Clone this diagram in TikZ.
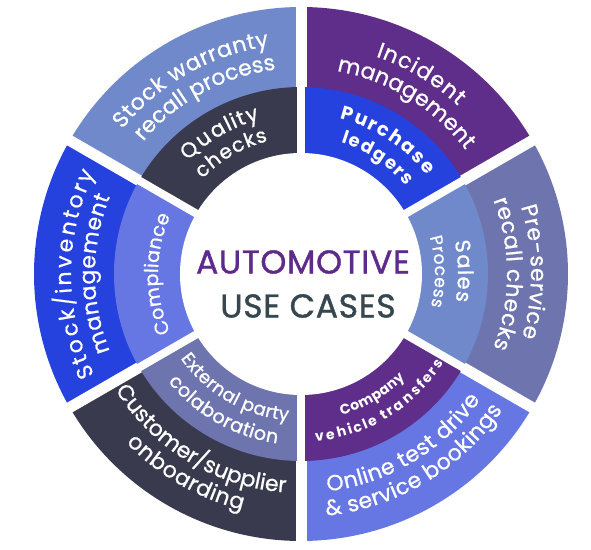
\documentclass[tikz,border=0pt]{standalone}
\usepackage{fontspec}
\setmainfont{Poppins}
\newfontfamily\ringfont{Poppins}[FakeBold=0.7]
\newfontfamily\ringmedium{Poppins}[FakeBold=1.1]
\newfontfamily\titlefont{Poppins}[FakeBold=1.2,LetterSpace=2]
\usetikzlibrary{decorations.text}
\definecolor{steelblue}{HTML}{7089CB}
\definecolor{deeppurple}{HTML}{5F2D8A}
\definecolor{slateblue}{HTML}{6D74AE}
\definecolor{periwinkle}{HTML}{6677E4}
\definecolor{darkslate}{HTML}{3A3A4F}
\definecolor{royalblue}{HTML}{2541DE}
\definecolor{titlepurple}{HTML}{5E2B8C}
\definecolor{titlegray}{HTML}{37474F}
\newcommand\outerfont{\ringfont\fontsize{22}{22}\selectfont}
\newcommand\innerfont[1]{\ringmedium\fontsize{#1}{#1}\selectfont}
\newcommand\innerbold[1]{\normalfont\bfseries\fontsize{#1}{#1}\selectfont}

\begin{document}
\begin{tikzpicture}[x=1pt,y=1pt,
  gap/.style={white,line width=8pt},
  widegap/.style={white,line width=11pt},
  curved/.style 2 args={decorate,decoration={text effects along path,text={#2},
    text effects/.cd,text along path,fit text to path,characters={text=white,font=#1}}}
]
  \useasboundingbox (-301pt,-275pt) rectangle (290pt,274pt);
  % outer ring
  \fill[steelblue] (0,0) -- (90:267pt) arc[start angle=90,end angle=150,radius=267pt] -- cycle;
  \fill[deeppurple] (0,0) -- (30:267pt) arc[start angle=30,end angle=90,radius=267pt] -- cycle;
  \fill[slateblue] (0,0) -- (-30:267pt) arc[start angle=-30,end angle=30,radius=267pt] -- cycle;
  \fill[periwinkle] (0,0) -- (-90:267pt) arc[start angle=-90,end angle=-30,radius=267pt] -- cycle;
  \fill[darkslate] (0,0) -- (210:267pt) arc[start angle=210,end angle=270,radius=267pt] -- cycle;
  \fill[royalblue] (0,0) -- (150:267pt) arc[start angle=150,end angle=210,radius=267pt] -- cycle;
  % inner ring
  \fill[darkslate] (0,0) -- (90:187pt) arc[start angle=90,end angle=150,radius=187pt] -- cycle;
  \fill[royalblue] (0,0) -- (30:187pt) arc[start angle=30,end angle=90,radius=187pt] -- cycle;
  \fill[steelblue] (0,0) -- (-30:187pt) arc[start angle=-30,end angle=30,radius=187pt] -- cycle;
  \fill[deeppurple] (0,0) -- (-90:187pt) arc[start angle=-90,end angle=-30,radius=187pt] -- cycle;
  \fill[slateblue] (0,0) -- (210:187pt) arc[start angle=210,end angle=270,radius=187pt] -- cycle;
  \fill[periwinkle] (0,0) -- (150:187pt) arc[start angle=150,end angle=210,radius=187pt] -- cycle;
  % white gaps
  \draw[gap] (0,0) -- (90:190pt);   \draw[widegap] (90:187pt) -- (90:270pt);
  \draw[gap] (0,0) -- (30:190pt);   \draw[widegap] (30:187pt) -- (30:270pt);
  \draw[gap] (0,0) -- (-30:190pt);  \draw[widegap] (-30:187pt) -- (-30:270pt);
  \draw[gap] (0,0) -- (-90:190pt);  \draw[widegap] (-90:187pt) -- (-90:270pt);
  \draw[gap] (0,0) -- (210:190pt);  \draw[widegap] (210:187pt) -- (210:270pt);
  \draw[gap] (0,0) -- (150:190pt);  \draw[widegap] (150:187pt) -- (150:270pt);
  \fill[white] (0,0) circle[radius=121pt];
  % outer labels
  \path[curved={\outerfont}{Stock warranty}] (141:230pt) arc[start angle=141,end angle=98,radius=230pt];
  \path[curved={\outerfont}{recall process}] (140:206pt) arc[start angle=140,end angle=97,radius=206pt];
  \path[curved={\outerfont}{Incident}] (71:230pt) arc[start angle=71,end angle=47,radius=230pt];
  \path[curved={\outerfont}{management}] (80:206pt) arc[start angle=80,end angle=37,radius=206pt];
  \path[curved={\outerfont}{Pre-service}] (17:230pt) arc[start angle=17,end angle=-16,radius=230pt];
  \path[curved={\outerfont}{recall checks}] (21:206pt) arc[start angle=21,end angle=-21,radius=206pt];
  \path[curved={\outerfont}{Stock/inventory}] (206:230pt) arc[start angle=206,end angle=154,radius=230pt];
  \path[curved={\outerfont}{management}] (202:206pt) arc[start angle=202,end angle=158,radius=206pt];
  \path[curved={\outerfont}{Customer/supplier}] (212:219pt) arc[start angle=212,end angle=266,radius=219pt];
  \path[curved={\outerfont}{onboarding}] (224:243pt) arc[start angle=224,end angle=256,radius=243pt];
  \path[curved={\outerfont}{Online test drive}] (277:219pt) arc[start angle=277,end angle=325,radius=219pt];
  \path[curved={\outerfont}{{\&} service bookings}] (276:243pt) arc[start angle=276,end angle=326,radius=243pt];
  % inner labels
  \path[curved={\innerfont{21}}{Quality}] (135:160pt) arc[start angle=135,end angle=105,radius=160pt];
  \path[curved={\innerfont{20}}{checks}] (136:137pt) arc[start angle=136,end angle=104,radius=137pt];
  \path[curved={\innerbold{19}}{Purchase}] (76:160pt) arc[start angle=76,end angle=38,radius=160pt];
  \path[curved={\innerbold{18}}{ledgers}] (73:137pt) arc[start angle=73,end angle=40,radius=137pt];
  \path[curved={\innerfont{21}}{Sales}] (12:157pt) arc[start angle=12,end angle=-10,radius=157pt];
  \path[curved={\innerfont{17}}{Process}] (16:134pt) arc[start angle=16,end angle=-14,radius=134pt];
  \path[curved={\innerfont{19}}{Compliance}] (204:143pt) arc[start angle=204,end angle=156,radius=143pt];
  \path[curved={\innerbold{14}}{Company}] (286:147pt) arc[start angle=286,end angle=315,radius=147pt];
  \path[curved={\innerbold{14}}{vehicle transfers}] (275:168pt) arc[start angle=275,end angle=328,radius=168pt];
  \path[curved={\innerfont{18}}{External party}] (215:147pt) arc[start angle=215,end angle=265,radius=147pt];
  \path[curved={\innerfont{19}}{colaboration}] (219:171pt) arc[start angle=219,end angle=262,radius=171pt];
  % centre title
  \node[font=\titlefont\fontsize{33}{33}\selectfont,text=titlepurple] (automotive) at (2pt,12pt) {AUTOMOTIVE};
  \node[font=\titlefont\fontsize{33}{33}\selectfont,text=titlegray] (usecases) at (7pt,-32pt) {USE CASES};
\end{tikzpicture}
\end{document}
